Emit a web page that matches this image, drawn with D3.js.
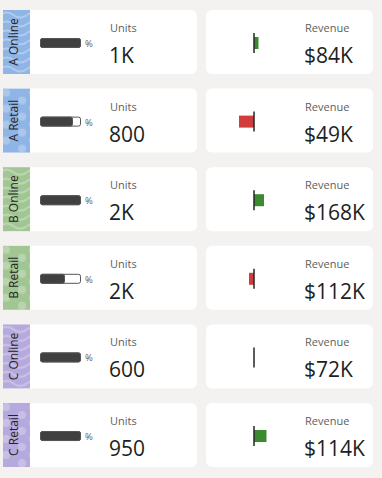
<!DOCTYPE html>
<html>
<head>
<meta charset="utf-8">
<script src="https://cdn.jsdelivr.net/npm/d3@7"></script>
<style>
  body { margin: 0; background: #f3f2f1; }
  svg { display: block; font-family: "Open Sans", sans-serif; }
</style>
</head>
<body>
<div id="chart"></div>
<script>
// Data
const labels = ['A Online', 'A Retail', 'B Online', 'B Retail', 'C Online', 'C Retail'];
const groups = ['A', 'A', 'B', 'B', 'C', 'C'];
const channels = ['Online', 'Retail', 'Online', 'Retail', 'Online', 'Retail'];
const units = [1000, 800, 2000, 2000, 600, 950];
const unitsPct = [1, 0.8, 1, 0.6, 1, 1];
const revenue = [84, 49, 168, 112, 72, 114];      // $K
const variance = [4.5, -15, 10, -5, 0, 12.5];      // $K vs target

const width = 382;
const height = 478;

const groupColor = d3.scaleOrdinal()
    .domain(['A', 'B', 'C'])
    .range(['#8fb4e6', '#a1c693', '#b6a9dd']);

const yScale = d3.scaleBand()
    .domain(labels)
    .range([10, 467])
    .paddingInner(0.186);

const pctScale = d3.scaleLinear().domain([0, 1]).range([0, 40]);
const varScale = d3.scaleLinear().domain([-20, 20]).range([234, 274]);

const fmtUnits = v => v >= 1000 ? d3.format('.0f')(v / 1000) + 'K' : String(v);
const fmtRev = v => '$' + v + 'K';

const svg = d3.select('#chart')
  .append('svg')
    .attr('width', width)
    .attr('height', height);

// patterns for the label strips
const defs = svg.append('defs');
const wave = defs.append('pattern')
    .attr('id', 'wave')
    .attr('patternUnits', 'userSpaceOnUse')
    .attr('width', 27)
    .attr('height', 9);
wave.append('path')
    .attr('d', 'M0,5 Q7,0 13.5,5 T27,5')
    .attr('fill', 'none')
    .attr('stroke', '#ffffff')
    .attr('stroke-opacity', 0.3)
    .attr('stroke-width', 2);
const dots = defs.append('pattern')
    .attr('id', 'dots')
    .attr('patternUnits', 'userSpaceOnUse')
    .attr('width', 27)
    .attr('height', 16);
[[6, 4], [22, 12]].forEach(([cx, cy]) => {
  dots.append('circle')
      .attr('cx', cx)
      .attr('cy', cy)
      .attr('r', 4)
      .attr('fill', '#ffffff')
      .attr('fill-opacity', 0.25);
});

const rows = svg.selectAll('.row')
  .data(labels)
  .enter()
  .append('g')
    .attr('class', 'row')
    .attr('transform', d => `translate(0,${yScale(d)})`);

const h = yScale.bandwidth();

// left card
rows.append('rect')
    .attr('x', 3)
    .attr('width', 194)
    .attr('height', h)
    .attr('rx', 6)
    .attr('fill', '#ffffff');

rows.append('rect')
    .attr('x', 3)
    .attr('width', 27)
    .attr('height', h)
    .attr('fill', (d, i) => groupColor(groups[i]));

rows.append('rect')
    .attr('x', 3)
    .attr('width', 27)
    .attr('height', h)
    .attr('fill', (d, i) => channels[i] === 'Online' ? 'url(#wave)' : 'url(#dots)');

rows.append('text')
    .attr('transform', `translate(17.5,${h / 2}) rotate(-90)`)
    .attr('text-anchor', 'middle')
    .attr('font-size', 12)
    .attr('fill', '#252423')
    .text(d => d);

// battery
rows.append('rect')
    .attr('x', 40.5)
    .attr('y', 28.5)
    .attr('width', pctScale(1))
    .attr('height', 9)
    .attr('rx', 2)
    .attr('fill', '#ffffff')
    .attr('stroke', '#555555');

rows.append('rect')
    .attr('x', 40.5)
    .attr('y', 28.5)
    .attr('width', (d, i) => pctScale(unitsPct[i]))
    .attr('height', 9)
    .attr('rx', 2)
    .attr('fill', '#404040')
    .attr('stroke', '#555555');

rows.append('text')
    .attr('x', 85)
    .attr('y', 37)
    .attr('font-size', 9.5)
    .attr('fill', '#605e5c')
    .text('%');

rows.append('text')
    .attr('x', 110)
    .attr('y', 22)
    .attr('font-size', 11)
    .attr('fill', '#605e5c')
    .text('Units');

rows.append('text')
    .attr('x', 109)
    .attr('y', 53)
    .attr('font-size', 21)
    .attr('fill', '#201f1e')
    .text((d, i) => fmtUnits(units[i]));

// right card
rows.append('rect')
    .attr('x', 206)
    .attr('width', 167)
    .attr('height', h)
    .attr('rx', 6)
    .attr('fill', '#ffffff');

rows.append('rect')
    .attr('x', (d, i) => Math.min(varScale(0), varScale(variance[i])))
    .attr('y', 27)
    .attr('width', (d, i) => Math.abs(varScale(variance[i]) - varScale(0)))
    .attr('height', 12)
    .attr('fill', (d, i) => variance[i] < 0 ? '#d13c3c' : '#3a8a2e');

rows.append('line')
    .attr('x1', varScale(0))
    .attr('x2', varScale(0))
    .attr('y1', 23)
    .attr('y2', 43)
    .attr('stroke', '#252423')
    .attr('stroke-width', 1.5);

rows.append('text')
    .attr('x', 305)
    .attr('y', 22)
    .attr('font-size', 11)
    .attr('fill', '#605e5c')
    .text('Revenue');

rows.append('text')
    .attr('x', 304)
    .attr('y', 53)
    .attr('font-size', 21)
    .attr('fill', '#201f1e')
    .text((d, i) => fmtRev(revenue[i]));
</script>
</body>
</html>
